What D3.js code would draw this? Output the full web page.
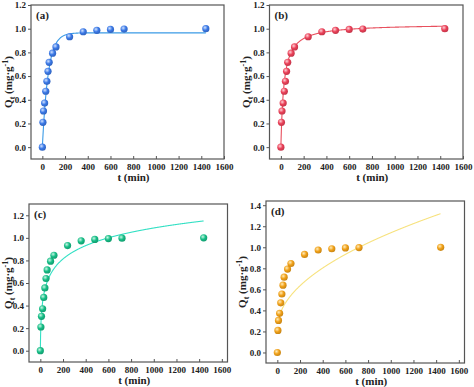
<!DOCTYPE html>
<html>
<head>
<meta charset="utf-8">
<script src="https://cdnjs.cloudflare.com/ajax/libs/d3/7.8.5/d3.min.js"></script>
<style>
  body { margin: 0; background: #fff; }
  svg text { font-family: "Liberation Serif", "Times New Roman", serif; font-weight: bold; fill: #222; }
</style>
</head>
<body>
<div id="chart"></div>
<script>
// contact time (min) and measured uptake Qt (mg/g), same for the 4 panels
var times = [0, 5, 10, 20, 30, 40, 50, 60, 90, 120, 240, 360, 480, 600, 720, 1440];
var qt = [0, 0.21, 0.305, 0.372, 0.472, 0.556, 0.64, 0.716, 0.793, 0.846, 0.932, 0.974, 0.986, 0.994, 0.997, 1.0];

var xTicks = [0, 200, 400, 600, 800, 1000, 1200, 1400, 1600];
var yTicksAB = [0, 0.2, 0.4, 0.6, 0.8, 1.0, 1.2];
var yTicksD = [0, 0.2, 0.4, 0.6, 0.8, 1.0, 1.2, 1.4];

// fitted kinetic model parameters
var pfo = {qe: 0.965, k: 0.0197};          // (a) pseudo-first-order
var pso = {qe: 1.04, k: 0.0357};           // (b) pseudo-second-order
var elovich = {a: 0.098, b: 5.84};         // (c) Elovich
var ipd = {k: 0.0288, c: 0.227};           // (d) intraparticle diffusion

var models = {
    a: function(t){ return pfo.qe * (1 - Math.exp(-pfo.k * t)); },
    b: function(t){ return pso.qe * pso.qe * pso.k * t / (1 + pso.qe * pso.k * t); },
    c: function(t){ return Math.log(1 + elovich.a * elovich.b * t) / elovich.b; },
    d: function(t){ return ipd.k * Math.sqrt(t) + ipd.c; }
};

var panels = [
    {id: 'a', l: 31, r: 224, t: 5, b: 159, xd: [-100, 1600], yd: [-0.1, 1.2], yt: yTicksAB,
     dot: '#3a78e6', light: '#d0e2ff', line: '#3b9be6', t0: 0},
    {id: 'b', l: 269.5, r: 463, t: 5, b: 159, xd: [-100, 1600], yd: [-0.1, 1.2], yt: yTicksAB,
     dot: '#ea4058', light: '#ffd0d6', line: '#e8505e', t0: 0},
    {id: 'c', l: 29, r: 227.5, t: 204, b: 362, xd: [-100, 1650], yd: [-0.1, 1.3], yt: yTicksAB,
     dot: '#16bd86', light: '#c6f7e4', line: '#33e0c4', t0: 0},
    {id: 'd', l: 266, r: 464.5, t: 201, b: 363, xd: [-100, 1650], yd: [-0.1, 1.44], yt: yTicksD,
     dot: '#f0a018', light: '#ffecb8', line: '#f7e27e', t0: 3}
];

var svg = d3.select('#chart')
.append('svg')
.attr('width', 474)
.attr('height', 387)
;

var defs = svg.append('defs');

panels.forEach(function(p){

    var grad = defs.append('radialGradient')
    .attr('id', 'ball_' + p.id)
    .attr('cx', '38%').attr('cy', '35%').attr('r', '65%');
    grad.append('stop').attr('offset', '0%').attr('stop-color', p.light);
    grad.append('stop').attr('offset', '55%').attr('stop-color', p.dot);
    grad.append('stop').attr('offset', '100%').attr('stop-color', d3.color(p.dot).darker(0.5));

    var x = d3.scaleLinear().domain(p.xd).range([p.l, p.r]);
    var y = d3.scaleLinear().domain(p.yd).range([p.b, p.t]);

    var g = svg.append('g').attr('class', 'panel_' + p.id);

    // bottom axis, ticks pointing in
    var xa = g.append('g')
    .attr('transform', 'translate(0,' + p.b + ')')
    .call(d3.axisBottom(x).tickValues(xTicks).tickFormat(d3.format('d')).tickSizeInner(-3).tickSizeOuter(0).tickPadding(5))
    ;
    xa.select('.domain').remove();
    xa.selectAll('line').attr('stroke', '#555');
    xa.selectAll('text').style('font-size', '9px').attr('fill', '#222');

    // left axis
    var ya = g.append('g')
    .attr('transform', 'translate(' + p.l + ',0)')
    .call(d3.axisLeft(y).tickValues(p.yt).tickFormat(d3.format('.1f')).tickSizeInner(3).tickSizeOuter(0).tickPadding(2))
    ;
    ya.select('.domain').remove();
    ya.selectAll('line').attr('stroke', '#555');
    ya.selectAll('text').style('font-size', '9px').attr('fill', '#222');

    // frame
    g.append('rect')
    .attr('x', p.l).attr('y', p.t)
    .attr('width', p.r - p.l).attr('height', p.b - p.t)
    .attr('fill', 'none')
    .attr('stroke', '#555')
    .attr('stroke-width', 1.2)
    ;

    // fitted curve
    var f = models[p.id];
    var curveT = d3.range(p.t0, 1441, 2);
    g.append('path')
    .datum(curveT)
    .attr('fill', 'none')
    .attr('stroke', p.line)
    .attr('stroke-width', 1.1)
    .attr('d', d3.line().x(function(t){ return x(t); }).y(function(t){ return y(f(t)); }))
    ;

    // measured points
    g.selectAll('circle.pt')
    .data(times)
    .enter()
    .append('circle')
    .attr('class', 'pt')
    .attr('cx', function(d){ return x(d); })
    .attr('cy', function(d, i){ return y(qt[i]); })
    .attr('r', 3.6)
    .attr('fill', 'url(#ball_' + p.id + ')')
    ;

    // panel letter
    g.append('text')
    .attr('x', p.l + 5)
    .attr('y', p.t + 14)
    .style('font-size', '11px')
    .text('(' + p.id + ')')
    ;

    // x title
    g.append('text')
    .attr('x', (p.l + p.r) / 2 + 6)
    .attr('y', p.b + 22)
    .attr('text-anchor', 'middle')
    .style('font-size', '11px')
    .text('t (min)')
    ;

    // y title  Qt (mg·g-1)
    var yt = g.append('text')
    .attr('transform', 'translate(' + Math.max(p.l - 20, 12) + ',' + ((p.t + p.b) / 2) + ') rotate(-90)')
    .attr('text-anchor', 'middle')
    .style('font-size', '11px')
    ;
    yt.append('tspan').text('Q');
    yt.append('tspan').attr('dy', 3).style('font-size', '8px').text('t');
    yt.append('tspan').attr('dy', -3).text(' (mg·g');
    yt.append('tspan').attr('dy', -4).style('font-size', '8px').text('-1');
    yt.append('tspan').attr('dy', 4).text(')');
});
</script>
</body>
</html>
